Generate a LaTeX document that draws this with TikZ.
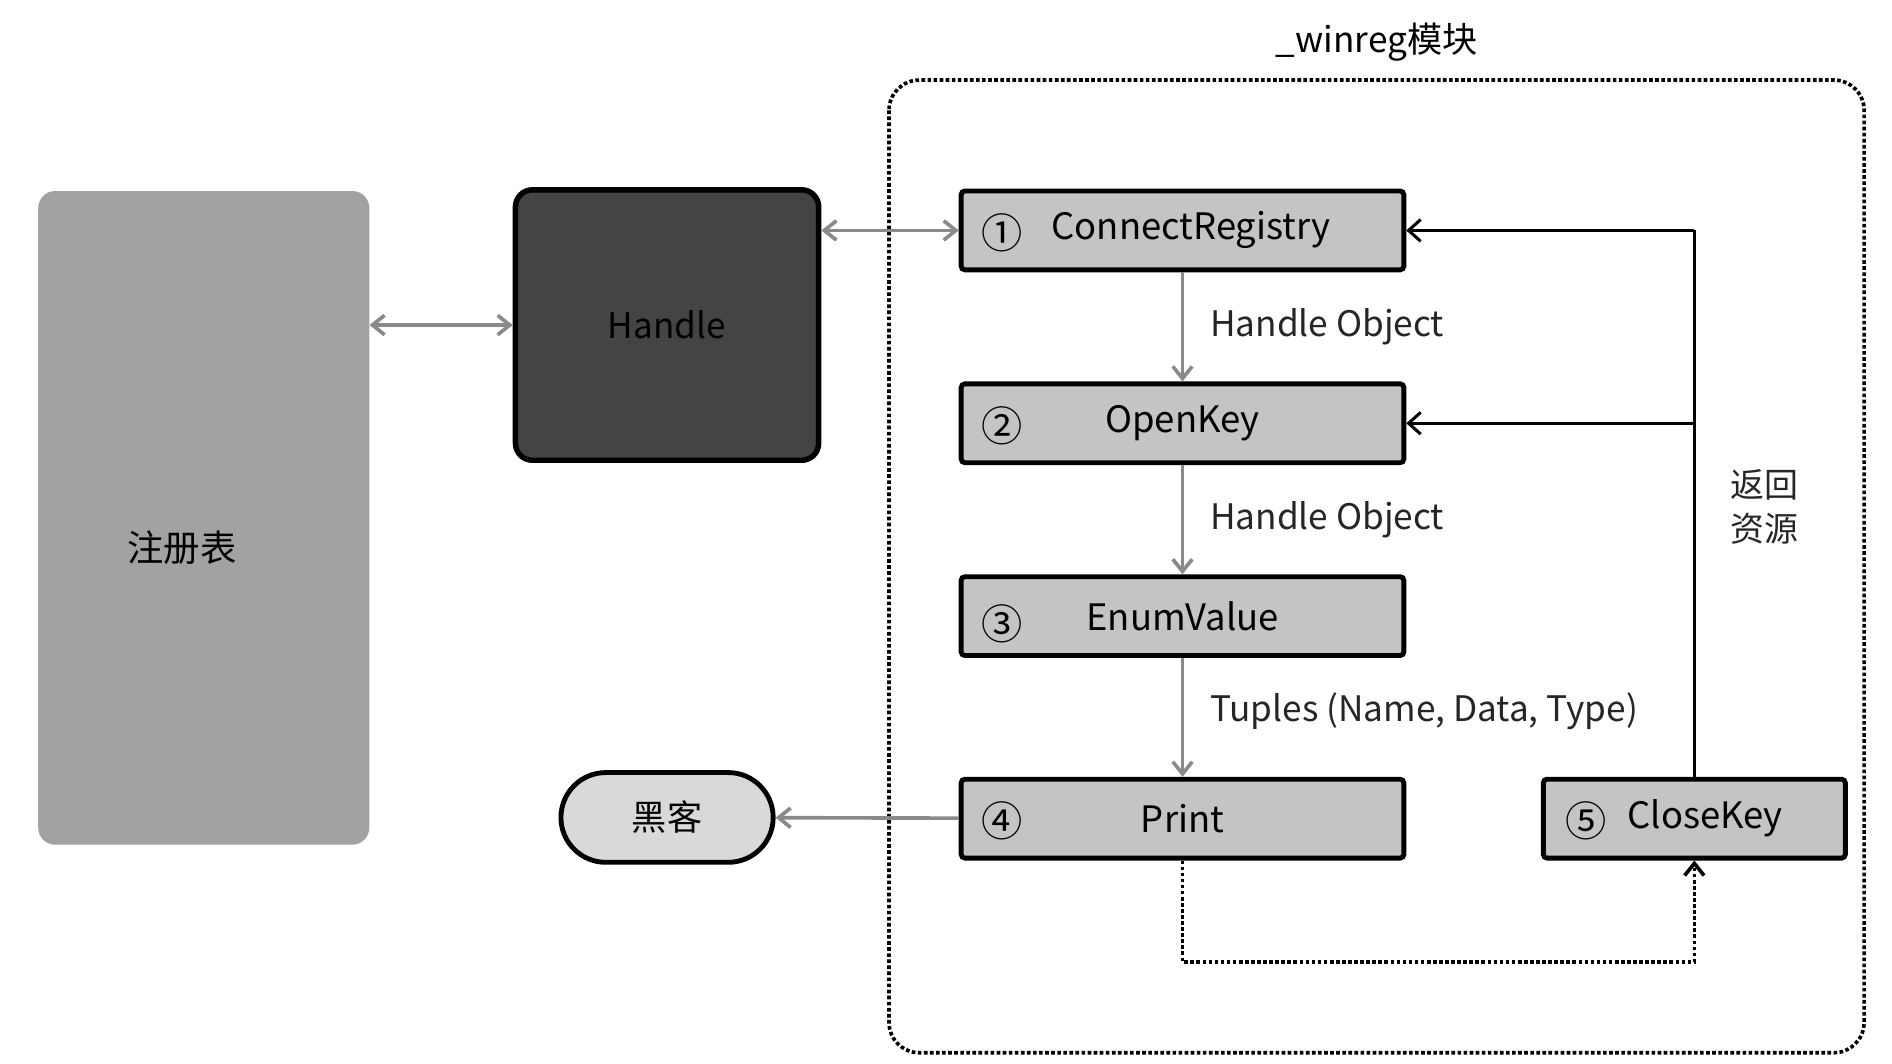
\documentclass[tikz,border=0pt]{standalone}
\usepackage{fontspec}
\setmainfont{Noto Sans CJK SC}
\usetikzlibrary{arrows.meta}
\definecolor{boxgray}{HTML}{C4C4C4}
\definecolor{reggray}{HTML}{A2A2A2}
\definecolor{darkbox}{HTML}{444444}
\definecolor{arrgray}{HTML}{8A8A8A}
\tikzset{
  fn/.style={draw=black, line width=4pt, fill=boxgray, rounded corners=3pt,
    minimum width=365pt, minimum height=65pt, font=\fontsize{30}{34}\selectfont},
  num/.style={font=\fontsize{34}{36}\selectfont},
  gar/.style={arrgray, line width=3pt, -{Straight Barb[length=10pt,width=16pt]}},
  bar/.style={black, line width=2.5pt, -{Straight Barb[length=10pt,width=18pt]}},
  lbl/.style={font=\fontsize{29}{33}\selectfont, anchor=west, text=black!85}
}
\begin{document}
\begin{tikzpicture}[x=1pt,y=-1pt]
\useasboundingbox (0,0) rectangle (1560,877);
% module frame
\draw[dotted, line width=3pt, rounded corners=25pt] (733,66) rectangle (1537,868);
\node[font=\fontsize{29}{32}\selectfont] (title) at (1135,35) {\_winreg模块};
% left side
\node[fill=reggray, rounded corners=14pt, minimum width=273pt, minimum height=539pt] (reg) at (168,427) {};
\node[font=\fontsize{30}{34}\selectfont] at (150,452) {注册表};
\node[draw=black, line width=4.5pt, fill=darkbox, rounded corners=14pt, minimum width=250pt,
  minimum height=223pt, font=\fontsize{29}{32}\selectfont, text=black] (hdl) at (550,268) {Handle};
\node[draw=black, line width=4pt, fill=black!15, rounded corners=37pt, minimum width=175pt,
  minimum height=74pt, font=\fontsize{29}{32}\selectfont] (hack) at (550,674) {黑客};
% functions
\node[fn] (f1) at (975,190) {};
\node[num] at (826,192) {①};
\node[font=\fontsize{30}{34}\selectfont] at (982,190) {ConnectRegistry};
\node[fn] (f2) at (975,349) {OpenKey};
\node[num] at (826,351) {②};
\node[fn] (f3) at (975,508) {EnumValue};
\node[num] at (826,514) {③};
\node[fn] (f4) at (975,675) {Print};
\node[num] at (826,677) {④};
\node[fn, minimum width=249pt] (f5) at (1397,675) {};
\node[num] at (1308,677) {⑤};
\node[font=\fontsize{30}{34}\selectfont] at (1406,675) {CloseKey};
% gray arrows
\draw[gar, {Straight Barb[length=10pt,width=16pt]}-{Straight Barb[length=10pt,width=16pt]}]
  (reg.east |- 0,268) -- (hdl.west |- 0,268);
\draw[gar, {Straight Barb[length=10pt,width=16pt]}-{Straight Barb[length=10pt,width=16pt]}]
  (hdl.east |- 0,190) -- (f1.west);
\draw[gar] (f1) -- (f2) node[pos=0.5, lbl, xshift=18pt] {Handle Object};
\draw[gar] (f2) -- (f3) node[pos=0.5, lbl, xshift=18pt] {Handle Object};
\draw[gar] (f3) -- (f4) node[pos=0.45, lbl, xshift=18pt] {Tuples (Name, Data, Type)};
\draw[gar] (f4) -- (hack);
% return path
\coordinate (r1) at (1397,190);
\coordinate (r2) at (1397,349);
\draw[black, line width=2.5pt] (f5.north) -- (r1);
\draw[bar] (r1) -- (f1.east);
\draw[bar] (r2) -- (f2.east);
\node[font=\fontsize{28}{36}\selectfont, align=left, text=black!85] (ret) at (1455,418) {返回\\资源};
% dotted path
\coordinate (d1) at (975,793);
\coordinate (d2) at (1397,793);
\draw[dotted, line width=3pt, -{Straight Barb[length=10pt,width=16pt]}] (f4.south) -- (d1) -- (d2) -- (f5.south);
\end{tikzpicture}
\end{document}
